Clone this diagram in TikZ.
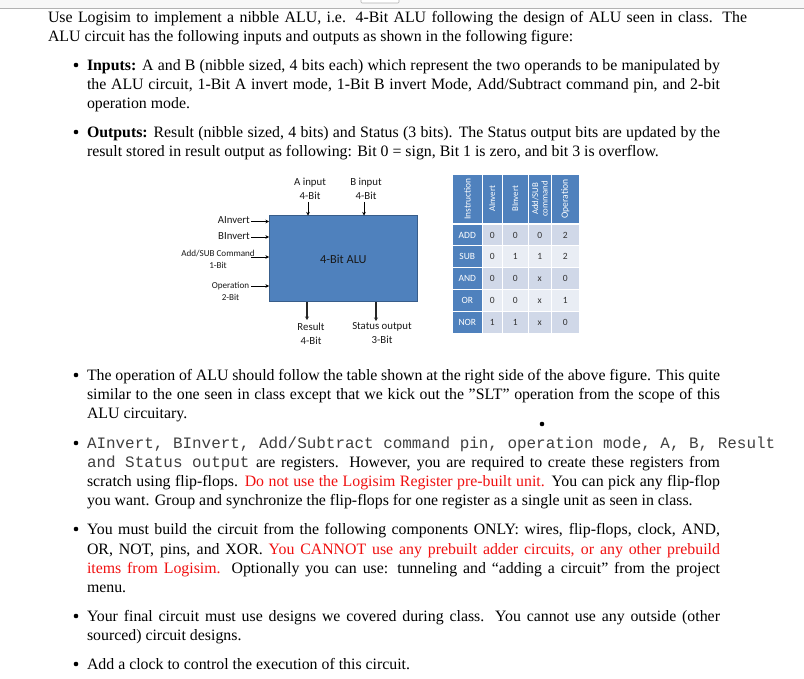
\documentclass[tikz,border=0pt]{standalone}
\usepackage{fontspec}
\setmainfont{Liberation Serif}
\newfontfamily\lblfont{Carlito}
\newfontfamily\codefont{Liberation Mono}
\definecolor{hdr}{HTML}{4F81BD}
\definecolor{hdrline}{HTML}{385D8A}
\definecolor{rowa}{HTML}{D0D8E8}
\definecolor{rowb}{HTML}{E9EDF4}
\definecolor{redtxt}{HTML}{F01010}
\usetikzlibrary{arrows.meta}
\tikzset{
  x=1pt,y=-1pt,
  txt/.style={anchor=base west,inner sep=0pt,outer sep=0pt,yshift=-0.7pt,font=\fontsize{15.85}{17}\selectfont},
  code/.style={anchor=base west,inner sep=0pt,outer sep=0pt,yshift=-0.7pt,text=black!75,font=\codefont\fontsize{15.93}{17}\selectfont},
  bul/.style={circle,fill=black,inner sep=0pt,minimum size=4.6pt},
  lbl/.style={inner sep=0pt,font=\lblfont\fontsize{10.8}{14}\selectfont,align=center,text=black!90},
  lblsm/.style={inner sep=0pt,font=\lblfont\fontsize{9.1}{11.5}\selectfont,align=center,text=black!90},
  sig/.style={draw=black,line width=0.8pt,-{Stealth[length=3.5pt,width=3.5pt]}},
  sigout/.style={draw=black!85,line width=1.1pt,-{Stealth[length=3.5pt,width=4pt]}},
  cellbox/.style={draw=white,line width=0.6pt,inner sep=0pt,font=\lblfont\fontsize{9.5}{10}\selectfont,align=center},
}
\newcommand{\jl}[5]{\node[txt] (#1) at (#2,#3) {\makebox[#4][s]{#5}};}
\newcommand{\nl}[4]{\node[txt] (#1) at (#2,#3) {#4};}
\newcommand{\rd}[1]{\textcolor{redtxt}{#1}}
\newcommand{\cel}[8]{\node[cellbox,fill=#6,text=#7,minimum width=#4 pt,minimum height=#5 pt,anchor=north west] (#1) at (#2,#3) {#8};}
\newcommand{\hcel}[6]{\node[cellbox,fill=hdr,text=white,minimum width=#4 pt,minimum height=49pt,anchor=north west] (#1) at (#2,#3) {};
  \node[rotate=90,inner sep=0pt,text=white,align=center,font=\lblfont\fontsize{#5}{9.5}\selectfont] (#1t) at (#1.center) {#6};}
\begin{document}
\begin{tikzpicture}
\useasboundingbox (0,0) rectangle (804,679);
\fill[white] (0,0) rectangle (804,679);
\fill[black!3] (0,0) rectangle (804,8);
\draw[black!30,line width=0.7pt] (0,8.3) -- (804,8.3);
\draw[black!30,fill=white,line width=0.6pt,rounded corners=1pt] (361,-2) rectangle (399,3);

\jl{a1}{48}{22}{699pt}{Use Logisim to implement a nibble ALU, i.e. 4-Bit ALU following the design of ALU seen in class. The}
\nl{a2}{48}{41}{ALU circuit has the following inputs and outputs as shown in the following figure:}

\node[bul] (b1) at (76,65) {};
\jl{b1a}{87}{70}{633pt}{\textbf{Inputs:} A and B (nibble sized, 4 bits each) which represent the two operands to be manipulated by}
\jl{b1b}{87}{89}{633pt}{the ALU circuit, 1-Bit A invert mode, 1-Bit B invert Mode, Add/Subtract command pin, and 2-bit}
\nl{b1c}{87}{108}{operation mode.}

\node[bul] (b2) at (76,132) {};
\jl{b2a}{87}{137}{633pt}{\textbf{Outputs:} Result (nibble sized, 4 bits) and Status (3 bits). The Status output bits are updated by the}
\nl{b2b}{87}{156}{result stored in result output as following: Bit 0 = sign, Bit 1 is zero, and bit 3 is overflow.}

% ALU figure
\node[draw=hdrline,line width=0.8pt,fill=hdr,minimum width=148pt,minimum height=86pt,anchor=north west,inner sep=0pt,font=\lblfont\fontsize{12.3}{14}\selectfont,text=black!90] (alu) at (269,215.5) {4-Bit ALU};
\node[lbl] (ain) at (310,189) {A input\\4-Bit};
\node[lbl] (bin) at (366,189) {B input\\4-Bit};
\node[lbl,anchor=east] (ainv) at (250,220.5) {AInvert};
\node[lbl,anchor=east] (binv) at (250,236) {BInvert};
\node[lblsm] (addsub) at (218,259.5) {Add/SUB Command\\1-Bit};
\node[lblsm] (oper) at (230.5,291.5) {Operation\\2-Bit};
\node[lbl] (res) at (311,334) {Result\\4-Bit};
\node[lbl] (stat) at (382,333) {Status output\\3-Bit};
\coordinate (ca) at (308,202);
\coordinate (cb) at (364,202);
\coordinate (c1) at (251,221.5);
\coordinate (c2) at (251,237);
\coordinate (c3) at (251,257);
\coordinate (c4) at (251,286);
\coordinate (cr) at (307,320);
\coordinate (cs) at (376,321);
\draw[sig] (ca) -- (ca |- alu.north);
\draw[sig] (cb) -- (cb |- alu.north);
\draw[sig] (c1) -- (c1 -| alu.west);
\draw[sig] (c2) -- (c2 -| alu.west);
\draw[sig] (c3) -- (c3 -| alu.west);
\draw[sig] (c4) -- (c4 -| alu.west);
\draw[sigout] (cr |- alu.south) -- (cr);
\draw[sigout] (cs |- alu.south) -- (cs);

% table
\hcel{h1}{452}{174}{30}{9.4}{Instruction}
\hcel{h2}{482}{174}{20}{8.8}{AInvert}
\hcel{h3}{502}{174}{26}{8.8}{BInvert}
\hcel{h4}{528}{174}{23}{8.8}{Add/SUB\\command}
\hcel{h5}{551}{174}{28}{9.6}{Operation}
\cel{r1a}{452}{224}{30}{21.5}{hdr}{white}{ADD}
\cel{r1b}{482}{224}{20}{21.5}{rowa}{black!80}{0}
\cel{r1c}{502}{224}{26}{21.5}{rowa}{black!80}{0}
\cel{r1d}{528}{224}{23}{21.5}{rowa}{black!80}{0}
\cel{r1e}{551}{224}{28}{21.5}{rowa}{black!80}{2}
\cel{r2a}{452}{245.5}{30}{22}{hdr}{white}{SUB}
\cel{r2b}{482}{245.5}{20}{22}{rowb}{black!80}{0}
\cel{r2c}{502}{245.5}{26}{22}{rowb}{black!80}{1}
\cel{r2d}{528}{245.5}{23}{22}{rowb}{black!80}{1}
\cel{r2e}{551}{245.5}{28}{22}{rowb}{black!80}{2}
\cel{r3a}{452}{267.5}{30}{22}{hdr}{white}{AND}
\cel{r3b}{482}{267.5}{20}{22}{rowa}{black!80}{0}
\cel{r3c}{502}{267.5}{26}{22}{rowa}{black!80}{0}
\cel{r3d}{528}{267.5}{23}{22}{rowa}{black!80}{x}
\cel{r3e}{551}{267.5}{28}{22}{rowa}{black!80}{0}
\cel{r4a}{452}{289.5}{30}{22}{hdr}{white}{OR}
\cel{r4b}{482}{289.5}{20}{22}{rowb}{black!80}{0}
\cel{r4c}{502}{289.5}{26}{22}{rowb}{black!80}{0}
\cel{r4d}{528}{289.5}{23}{22}{rowb}{black!80}{x}
\cel{r4e}{551}{289.5}{28}{22}{rowb}{black!80}{1}
\cel{r5a}{452}{311.5}{30}{22}{hdr}{white}{NOR}
\cel{r5b}{482}{311.5}{20}{22}{rowa}{black!80}{1}
\cel{r5c}{502}{311.5}{26}{22}{rowa}{black!80}{1}
\cel{r5d}{528}{311.5}{23}{22}{rowa}{black!80}{x}
\cel{r5e}{551}{311.5}{28}{22}{rowa}{black!80}{0}

\node[bul] (b3) at (76,375) {};
\jl{b3a}{87}{380}{633pt}{The operation of ALU should follow the table shown at the right side of the above figure. This quite}
\jl{b3b}{87}{399}{633pt}{similar to the one seen in class except that we kick out the ”SLT” operation from the scope of this}
\nl{b3c}{87}{418}{ALU circuitary.}

\node[bul] (b4x) at (542,424) {};
\node[bul] (b4) at (76,443) {};
\node[code] (b4a) at (87,448) {AInvert, BInvert, Add/Subtract command pin, operation mode, A, B, Result};
\node[code] (b4b) at (87,467) {and Status output};
\node[txt] (b4c) at (256,467) {\makebox[464pt][s]{are registers. However, you are required to create these registers from}};
\jl{b4d}{87}{486}{633pt}{scratch using flip-flops. \rd{Do not use the Logisim Register pre-built unit.} You can pick any flip-flop}
\nl{b4e}{87}{505}{you want. Group and synchronize the flip-flops for one register as a single unit as seen in class.}

\node[bul] (b5) at (76,529) {};
\jl{b5a}{87}{534}{633pt}{You must build the circuit from the following components ONLY: wires, flip-flops, clock, AND,}
\jl{b5b}{87}{554}{633pt}{OR, NOT, pins, and XOR. \rd{You CANNOT use any prebuilt adder circuits, or any other prebuild}}
\jl{b5c}{87}{573}{633pt}{\rd{items from Logisim.} Optionally you can use: tunneling and “adding a circuit” from the project}
\nl{b5d}{87}{592}{menu.}

\node[bul] (b6) at (76,616) {};
\jl{b6a}{87}{621}{633pt}{Your final circuit must use designs we covered during class. You cannot use any outside (other}
\nl{b6b}{87}{640}{sourced) circuit designs.}

\node[bul] (b7) at (76,664) {};
\nl{b7a}{87}{669}{Add a clock to control the execution of this circuit.}
\end{tikzpicture}
\end{document}
